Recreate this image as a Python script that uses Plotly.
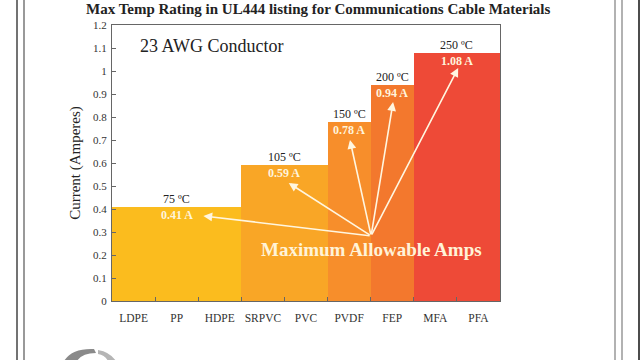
import plotly.graph_objects as go

# ---- data ----
categories = ["LDPE", "PP", "HDPE", "SRPVC", "PVC", "PVDF", "FEP", "MFA", "PFA"]
current_amps = [0.41, 0.41, 0.41, 0.59, 0.59, 0.78, 0.94, 1.08, 1.08]
bar_colors = ["#FBBC1E", "#FBBC1E", "#FBBC1E", "#F9A626", "#F9A626",
              "#F78E2B", "#F3782D", "#EE4A37", "#EE4A37"]
temp_labels = ["75 ºC", "105 ºC", "150 ºC", "200 ºC", "250 ºC"]
amp_labels = ["0.41 A", "0.59 A", "0.78 A", "0.94 A", "1.08 A"]
group_sizes = [3, 2, 1, 1, 2]
y_ticks = [0, 0.1, 0.2, 0.3, 0.4, 0.5, 0.6, 0.7, 0.8, 0.9, 1, 1.1, 1.2]
y_tick_text = ["0", "0.1", "0.2", "0.3", "0.4", "0.5", "0.6", "0.7", "0.8", "0.9", "1", "1.1", "1.2"]

SERIF = "Liberation Serif, Times New Roman, serif"

# plot area geometry (pixels)
W, H = 640, 360
L, R, T, B = 112, 140, 25, 59
PW, PH = W - L - R, H - T - B


def px(x):
    return (x - L) / PW


def py(y):
    return (H - B - y) / PH


fig = go.Figure()
fig.add_trace(go.Bar(
    x=categories, y=current_amps,
    marker=dict(color=bar_colors, line=dict(width=0)),
    hoverinfo="x+y", showlegend=False,
))

# group centers & values
annotations = []
idx = 0
centers = []
values = []
for g in group_sizes:
    c = idx + (g - 1) / 2
    centers.append(c)
    values.append(current_amps[idx])
    idx += g

for c, v, tl, al in zip(centers, values, temp_labels, amp_labels):
    annotations.append(dict(x=c, y=v, xref="x", yref="y", text=tl, showarrow=False,
                            yanchor="bottom", yshift=-1,
                            font=dict(family=SERIF, size=12, color="#222")))
    annotations.append(dict(x=c, y=v, xref="x", yref="y", text="<b>" + al + "</b>",
                            showarrow=False, yanchor="top", yshift=1,
                            font=dict(family=SERIF, size=12, color="#FFF4DC")))

# arrows from a common origin towards each amp label
origin = (5.51, 0.283)
tips = [(1.62, 0.37), (3.6, 0.513), (5.02, 0.70), (6.02, 0.865), (7.53, 1.013)]
for tx, ty in tips:
    annotations.append(dict(x=tx, y=ty, ax=origin[0], ay=origin[1], xref="x", yref="y",
                            axref="x", ayref="y", text="", showarrow=True,
                            arrowhead=2, arrowsize=1.1, arrowwidth=1.6,
                            arrowcolor="#FFF6E0"))

annotations.append(dict(x=origin[0], y=0.222, xref="x", yref="y", yanchor="middle",
                        text="<b>Maximum Allowable Amps</b>", showarrow=False,
                        font=dict(family=SERIF, size=19, color="#FFF3D8")))

annotations.append(dict(x=px(138), y=py(46), xref="paper", yref="paper",
                        text="23 AWG Conductor", showarrow=False, xanchor="left",
                        yanchor="middle",
                        font=dict(family=SERIF, size=18, color="#222")))

annotations.append(dict(x=px(318), y=py(-1), xref="paper", yref="paper",
                        text="<b>Max Temp Rating in UL444 listing for Communications Cable Materials</b>",
                        showarrow=False, yanchor="top", xanchor="center",
                        font=dict(family=SERIF, size=15, color="#222")))

shapes = []
# slide frame lines
for xpix, col, wd in [(17, "#444", 1.5), (24, "#999", 2), (615, "#999", 1.5),
                      (622, "#999", 1.5), (639, "#111", 1.5)]:
    shapes.append(dict(type="line", xref="paper", yref="paper",
                       x0=px(xpix), x1=px(xpix), y0=py(0), y1=py(360),
                       line=dict(color=col, width=wd)))
# partial logo bottom-left
logo = "M {a},{b} Q {c},{d} {e},{f} L {g},{h} Q {i},{j} {k},{l} Z".format(
    a=px(64), b=py(361), c=px(72), d=py(348), e=px(94), f=py(349),
    g=px(96), h=py(353), i=px(82), j=py(353), k=px(77), l=py(361))
shapes.append(dict(type="path", xref="paper", yref="paper", path=logo,
                   fillcolor="#8a8a8a", line=dict(width=0)))
logo2 = "M {a},{b} Q {c},{d} {e},{f} L {g},{h} Q {i},{j} {k},{l} Z".format(
    a=px(98), b=py(350), c=px(110), d=py(352), e=px(116), f=py(361),
    g=px(108), h=py(361), i=px(105), j=py(355), k=px(98), l=py(354))
shapes.append(dict(type="path", xref="paper", yref="paper", path=logo2,
                   fillcolor="#b5b5b5", line=dict(width=0)))

fig.update_layout(
    width=W, height=H,
    margin=dict(l=L, r=R, t=T, b=B, pad=0, autoexpand=False),
    paper_bgcolor="white", plot_bgcolor="white",
    bargap=0,
    annotations=annotations,
    shapes=shapes,
    font=dict(family=SERIF, color="#333"),
    xaxis=dict(type="category", showline=True, mirror=True, linecolor="#666", linewidth=1,
               ticks="inside", ticklen=4, tickcolor="#666", tickson="boundaries",
               tickangle=0, automargin=False, ticklabelstandoff=6,
               tickfont=dict(family=SERIF, size=11.5, color="#333"), showgrid=False,
               range=[-0.5, 8.5], fixedrange=True),
    yaxis=dict(range=[0, 1.2], tickvals=y_ticks, ticktext=y_tick_text, automargin=False,
               showline=True, mirror=True, linecolor="#666", linewidth=1,
               ticks="inside", ticklen=4, tickcolor="#666", showgrid=False, zeroline=False,
               tickfont=dict(family=SERIF, size=11, color="#333"), ticklabelstandoff=2,
               title=dict(text="Current (Amperes)", standoff=8,
                          font=dict(family=SERIF, size=15, color="#222"))),
)

fig.write_html("out.html", config={"displayModeBar": False},
               post_script="document.body.style.margin='0';document.body.style.overflow='hidden';")
